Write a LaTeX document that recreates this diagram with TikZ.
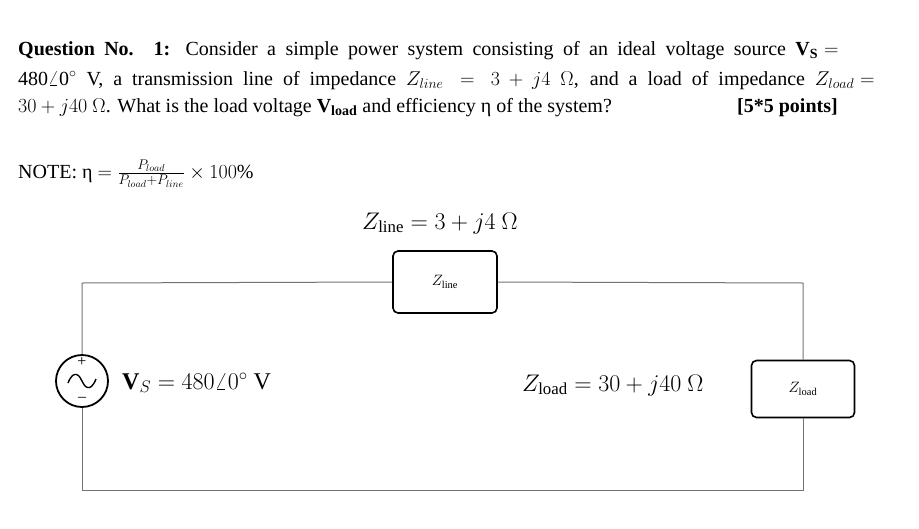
\RequirePackage{fix-cm}
\documentclass[tikz,border=0pt]{standalone}
\usepackage{amsmath}
\usepackage{fontspec}
\setmainfont{Liberation Serif}
\begin{document}
\begin{tikzpicture}[x=1pt,y=-1pt,
  wire/.style={draw=black!55,line width=1pt},
  zbox/.style={draw=black,line width=1.6pt,rounded corners=5pt,fill=white,inner sep=0pt},
  txt/.style={anchor=base west,inner sep=0pt,font=\fontsize{20}{23}\selectfont}]
\useasboundingbox (0,0) rectangle (919,528);
% question text
\node[txt] (l1) at (18,55) {\makebox[800pt][s]{\textbf{Question No. 1:} Consider a simple power system consisting of an ideal voltage source $\mathbf{V_S}$}};
\node[txt] (e1) at (824,55) {$=$};
\node[txt] (l2) at (18,85) {\makebox[836pt][s]{480$\angle$0$^\circ$ V, a transmission line of impedance $Z_{line}=3+j4\ \Omega$, and a load of impedance $Z_{load}$}};
\node[txt] (e2) at (860,85) {$=$};
\node[txt] (l3) at (18,112) {$30+j40\ \Omega$. What is the load voltage $\mathbf{V_{load}}$ and efficiency η of the system?};
\node[txt] (pts) at (737,112) {\textbf{[5*5 points]}};
\node[txt] (note) at (18,178) {NOTE: η $=\frac{P_{load}}{P_{load}+P_{line}}\times 100\%$};
% circuit
\coordinate (tl) at (82,283); \coordinate (tr) at (803,283);
\coordinate (bl) at (82,490); \coordinate (br) at (803,490);
\node[circle,draw,line width=1.8pt,minimum size=52pt,inner sep=0pt] (src) at (82,381) {};
\node[zbox,minimum width=104pt,minimum height=62pt] (zl) at (445,282) {\fontsize{15}{17}\selectfont $Z_{\mathrm{line}}$};
\node[zbox,minimum width=103pt,minimum height=57pt] (zd) at (803,389) {\fontsize{15}{17}\selectfont $Z_{\mathrm{load}}$};
\draw[wire] (src.north) -- (tl) -- (zl.west);
\draw[wire] (zl.east) -- (tr) -- (zd.north);
\draw[wire] (zd.south) -- (br) -- (bl) -- (src.south);
\draw[line width=1.4pt] (68,383) .. controls (74,368) and (80,376) .. (82,381) .. controls (84,386) and (90,394) .. (96,379);
\node[font=\fontsize{16}{16}\selectfont] (plus) at (82,362) {+};
\node[font=\fontsize{16}{16}\selectfont] (minus) at (82,399) {–};
\node[txt,font=\fontsize{24}{26}\selectfont] (vs) at (122,389) {$\mathbf{V}_S=480\angle0^\circ$ V};
\node[txt,font=\fontsize{24}{26}\selectfont] (zll) at (362,229) {$Z_{\mathrm{line}}=3+j4\ \Omega$};
\node[txt,font=\fontsize{24}{26}\selectfont] (zdl) at (522,391) {$Z_{\mathrm{load}}=30+j40\ \Omega$};
\end{tikzpicture}
\end{document}
